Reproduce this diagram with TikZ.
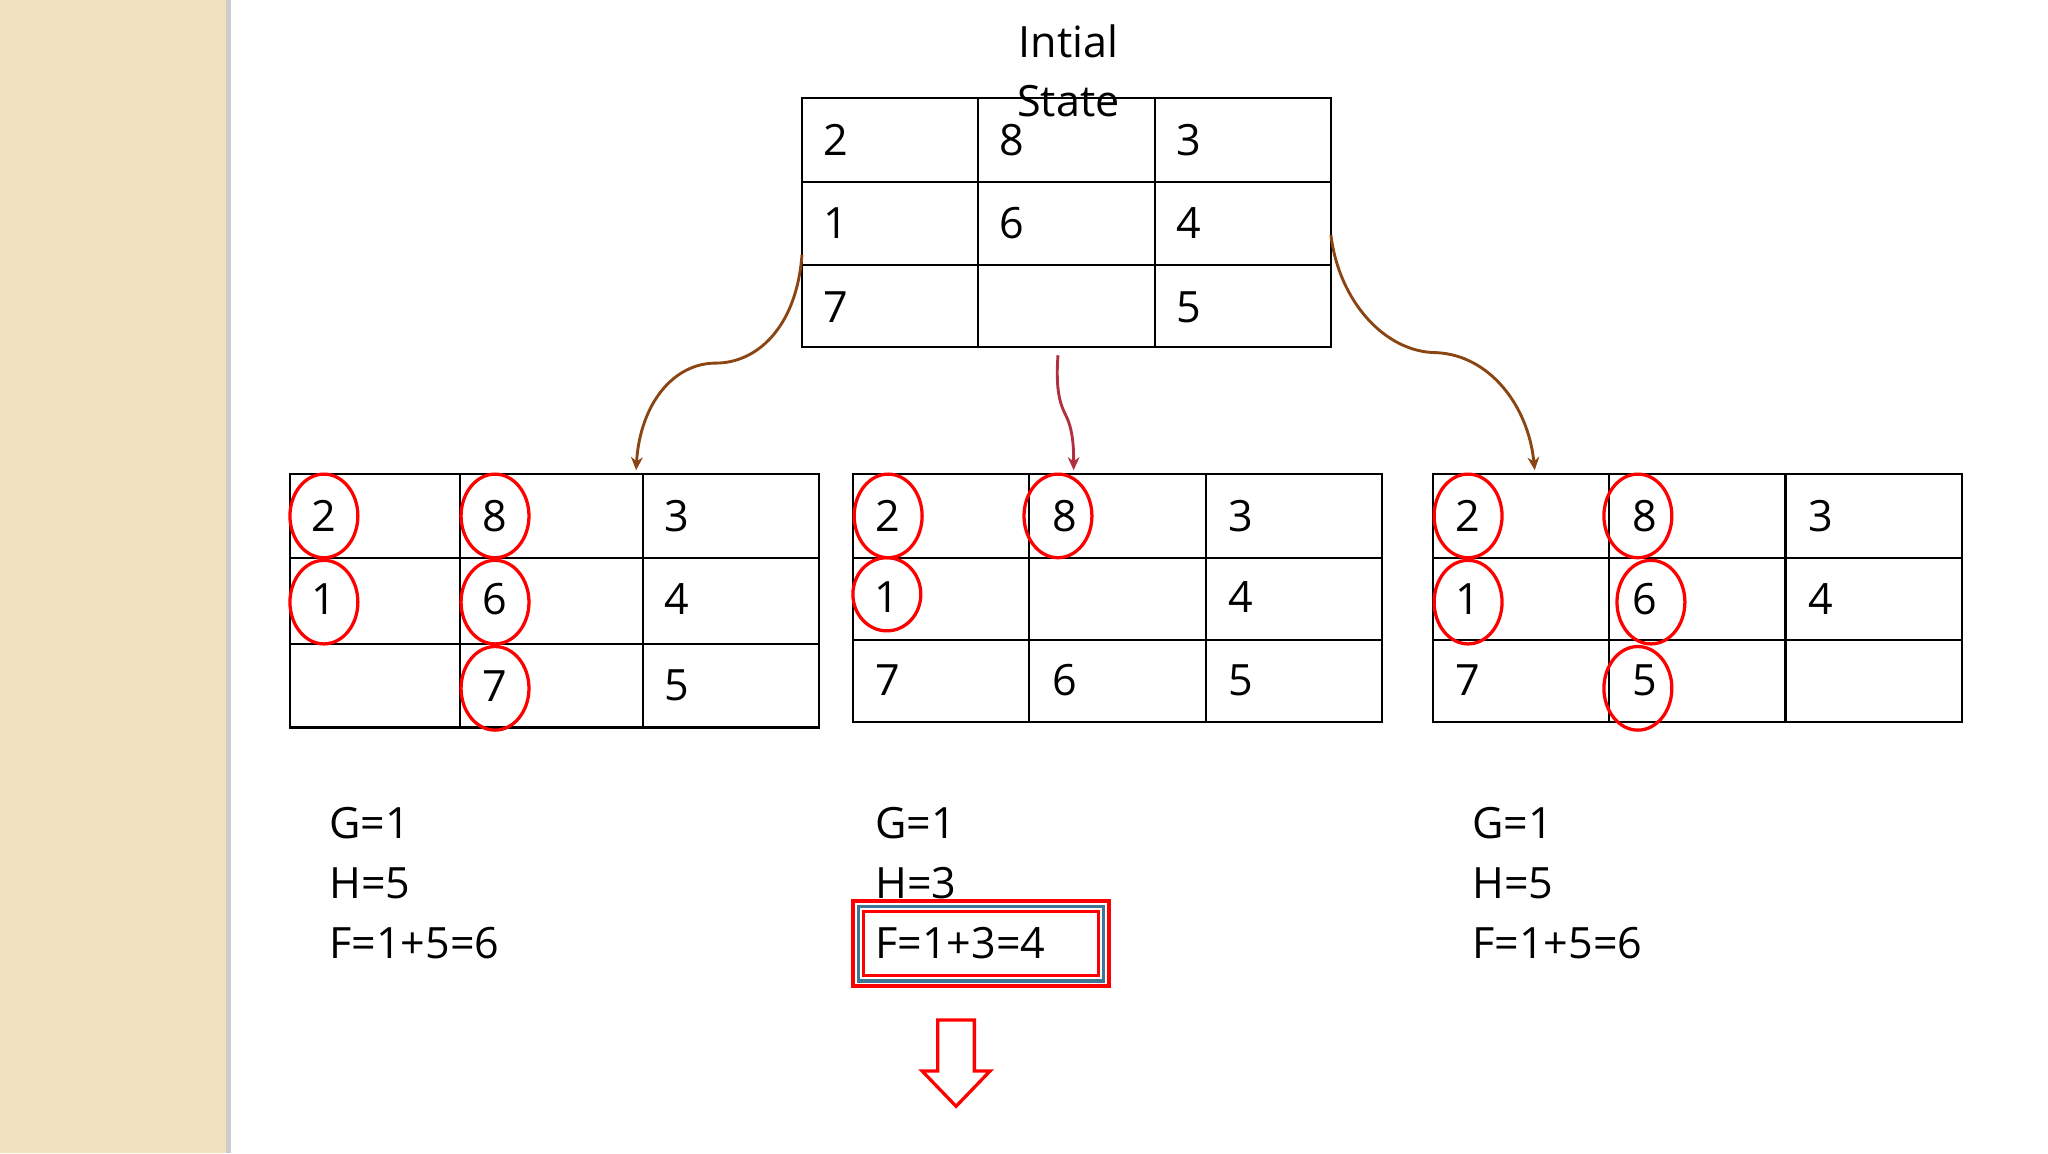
\documentclass[tikz,border=0pt]{standalone}
\usepackage{fontspec}
\setmainfont{Open Sans}
\usetikzlibrary{arrows.meta,shapes.geometric}
\definecolor{beige}{RGB}{240,226,190}
\definecolor{brn}{RGB}{139,69,19}
\definecolor{rarr}{RGB}{176,48,64}
\definecolor{teal2}{RGB}{60,120,150}
\begin{document}
\begin{tikzpicture}[x=1pt,y=-1pt,
  cell/.style={draw=black,line width=1.6pt},
  num/.style={font=\fontsize{33}{38}\selectfont,anchor=center,inner sep=0},
  circ/.style={draw=red,line width=2.5pt,ellipse,minimum width=52,minimum height=64},
  lab/.style={font=\fontsize{33}{46}\selectfont,anchor=west,inner sep=0,align=left},
  brown/.style={draw=brn,line width=2.2pt,-{Stealth[length=10pt,width=9pt]}}]
\useasboundingbox (0,0) rectangle (1568,883);
\fill[white] (0,0) rectangle (1568,883);
\fill[beige] (0,0) rectangle (173,883);
\fill[gray!40] (173,0) rectangle (177,883);
% top grid
\draw[cell] (614,75) rectangle (1019,266);
\draw[cell] (614,139)--(1019,139) (614,203)--(1019,203) (749,75)--(749,266) (884,75)--(884,266);
\node[num] (t1) at (640,107) {2};\node[num] at (775,107) {8};\node[num] at (910,107) {3};
\node[num] at (640,171) {1};\node[num] at (775,171) {6};\node[num] at (910,171) {4};
\node[num] at (640,235) {7};\node[num] at (910,235) {5};
\node[font=\fontsize{33}{45}\selectfont,align=center,inner sep=0] (title) at (818,54) {Intial\\State};
% left grid
\draw[cell] (222,363) rectangle (627,557);
\draw[cell] (222,427)--(627,427) (222,493)--(627,493) (352,363)--(352,557) (492,363)--(492,557);
\node[num] at (248,395) {2};\node[num] at (379,395) {8};\node[num] at (518,395) {3};
\node[num] at (248,459) {1};\node[num] at (379,459) {6};\node[num] at (518,459) {4};
\node[num] at (379,525) {7};\node[num] at (518,525) {5};
\node[circ] at (248,395) {};\node[circ] at (379,395) {};\node[circ] at (248,461) {};
\node[circ] at (379,461) {};\node[circ] at (379,527) {};
% middle grid
\draw[cell] (653,363) rectangle (1058,553);
\draw[cell] (653,427)--(1058,427) (653,490)--(1058,490) (788,363)--(788,553) (923,363)--(923,553);
\node[num] at (680,395) {2};\node[num] at (815,395) {8};\node[num] at (950,395) {3};
\node[num] at (679,457) {1};\node[num] at (950,457) {4};
\node[num] at (680,521) {7};\node[num] at (815,521) {6};\node[num] at (950,521) {5};
\node[circ] at (680,395) {};\node[circ] at (810,395) {};
\node[circ,minimum height=56] at (679,455) {};
% right grid
\draw[cell] (1097,363) rectangle (1502,553);
\draw[cell] (1097,427)--(1502,427) (1097,490)--(1502,490) (1232,363)--(1232,553) (1367,363)--(1367,553);
\node[num] at (1124,395) {2};\node[num] at (1259,395) {8};\node[num] at (1394,395) {3};
\node[num] at (1124,459) {1};\node[num] at (1259,459) {6};\node[num] at (1394,459) {4};
\node[num] at (1124,521) {7};\node[num] at (1259,521) {5};
\node[circ] at (1124,395) {};\node[circ] at (1254,395) {};\node[circ] at (1124,461) {};
\node[circ] at (1264,461) {};\node[circ] at (1254,527) {};
% arrows
\coordinate (a1) at (614,195); \coordinate (b1) at (487,360);
\draw[brown] (a1) .. controls (610,250) and (580,278) .. (548,278) .. controls (515,278) and (490,310) .. (b1);
\coordinate (a2) at (1019,180); \coordinate (b2) at (1175,360);
\draw[brown] (a2) .. controls (1025,230) and (1060,270) .. (1100,270) .. controls (1140,272) and (1170,310) .. (b2);
\coordinate (a3) at (810,272); \coordinate (b3) at (822,360);
\draw[draw=rarr,line width=2.2pt,-{Stealth[length=10pt,width=9pt]}] (a3) .. controls (808,300) and (812,310) .. (816,318) .. controls (822,330) and (822,345) .. (b3);
% labels
\node[lab] (L) at (252,676) {G=1\\H=5\\F=1+5=6};
\node[lab] (M) at (670,676) {G=1\\H=3\\F=1+3=4};
\node[lab] (R) at (1127,676) {G=1\\H=5\\F=1+5=6};
\draw[red,line width=3pt] (653,690) rectangle (849,755);
\draw[teal2,line width=2.5pt] (657,694) rectangle (845,751);
\draw[red,line width=2pt] (661,698) rectangle (841,747);
% down arrow
\draw[red,line width=2.5pt,line join=miter] (718,781)--(746,781)--(746,820)--(758,820)--(732,847)--(706,820)--(718,820)--cycle;
\end{tikzpicture}
\end{document}
